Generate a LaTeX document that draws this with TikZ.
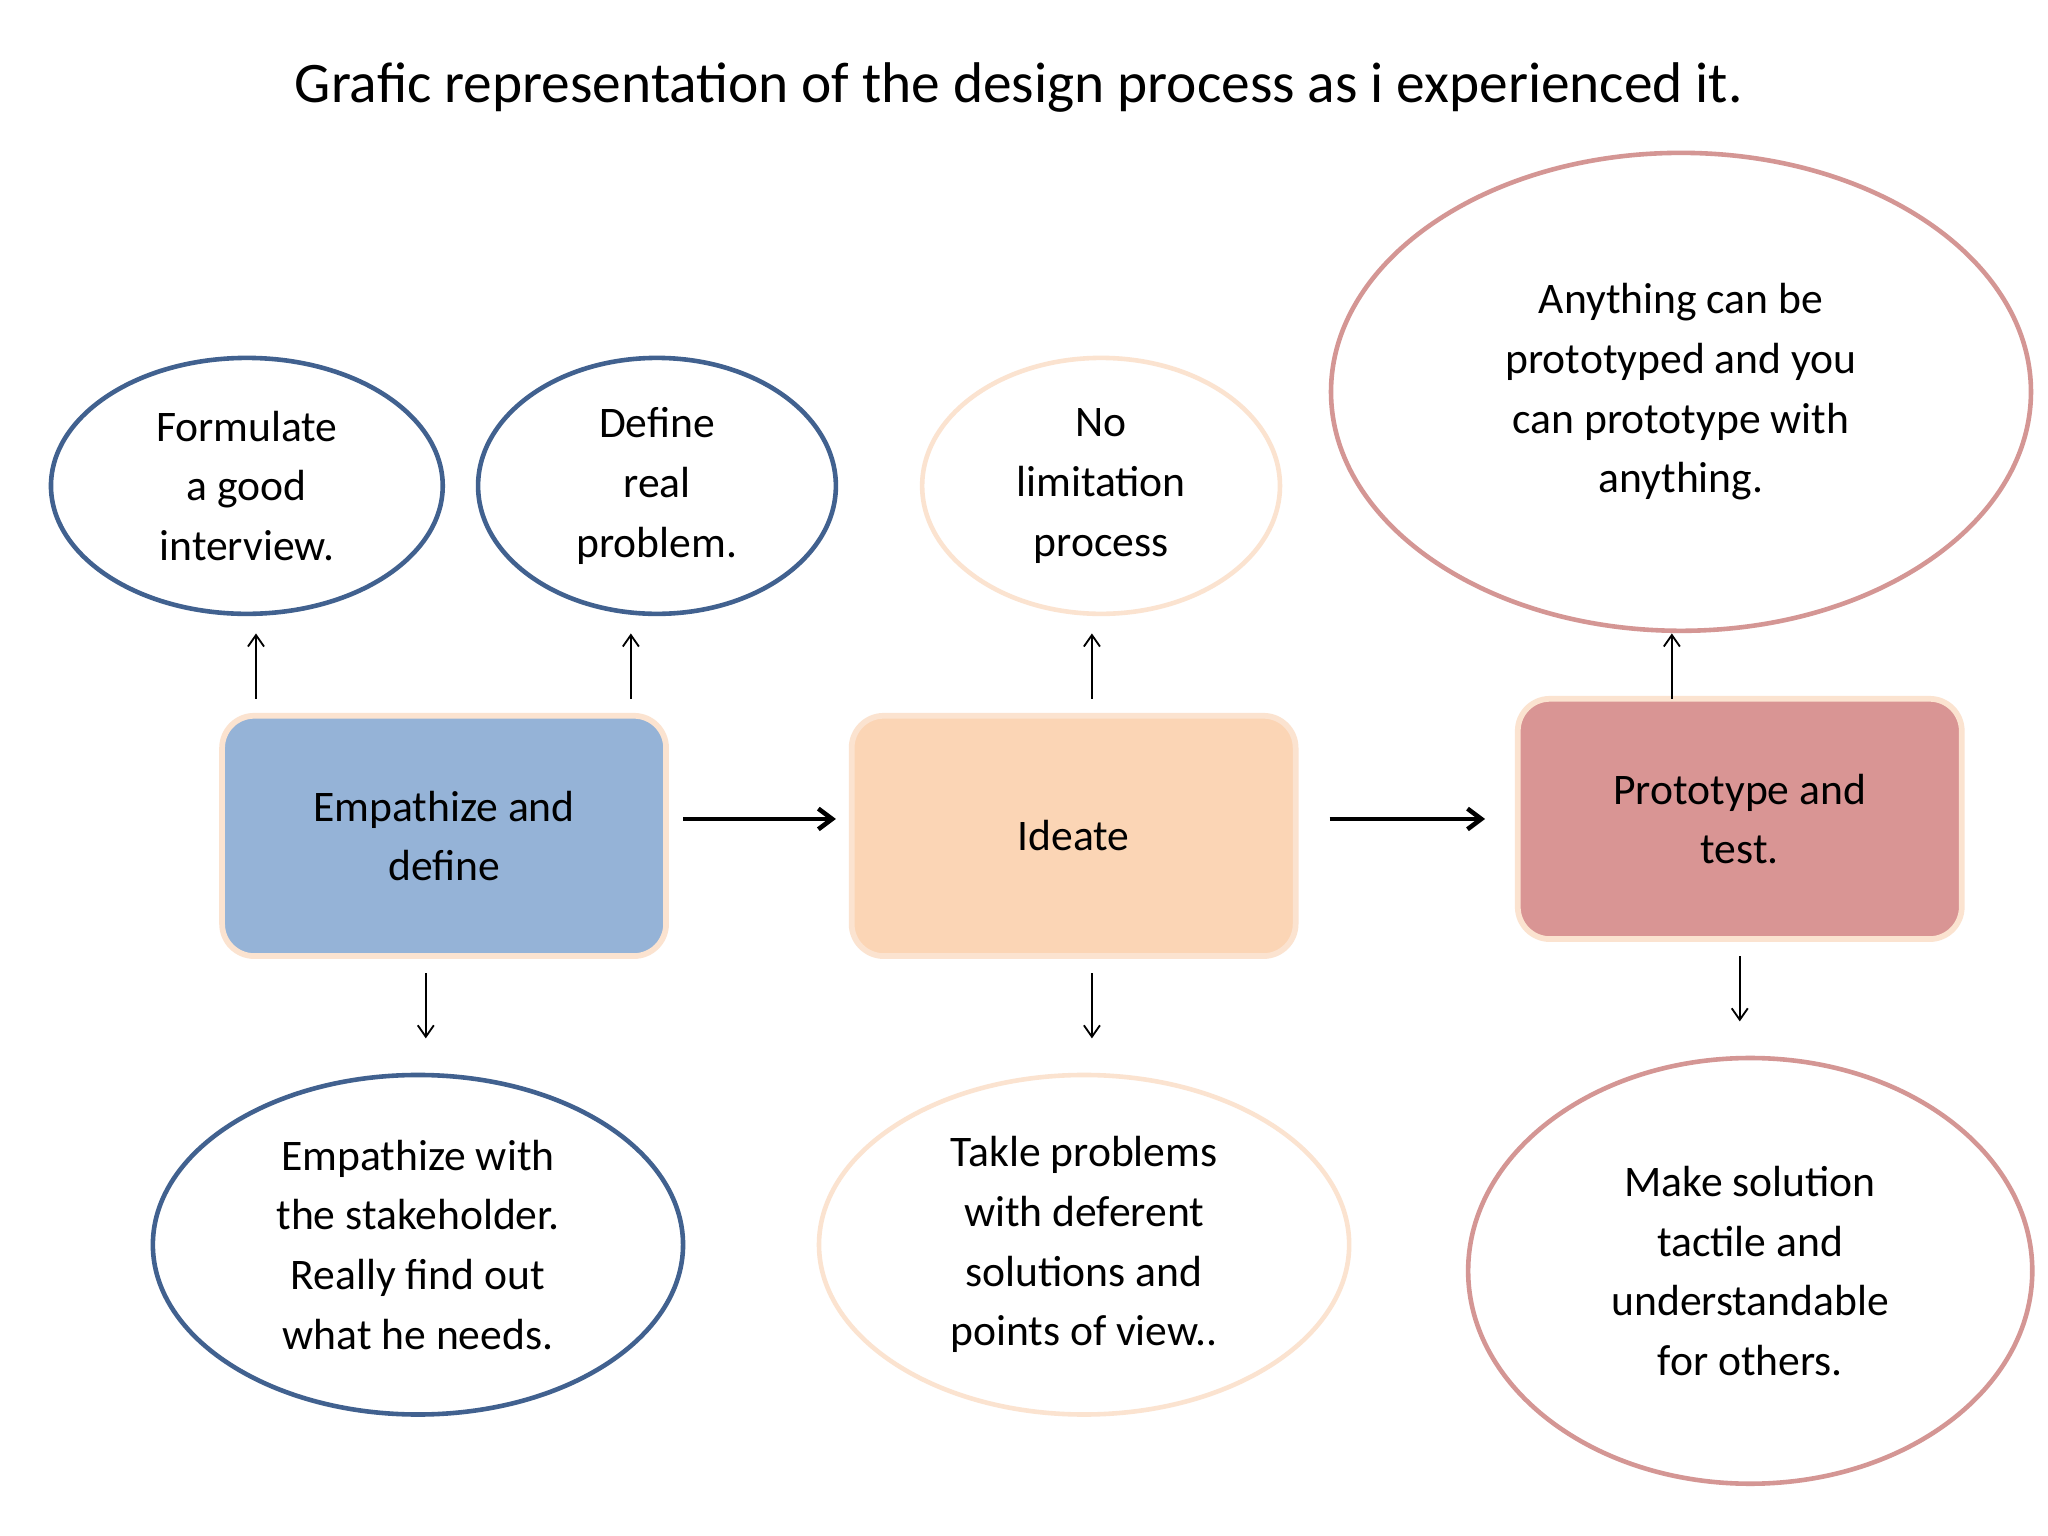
\documentclass[tikz,border=0pt]{standalone}
\usepackage{fontspec}
\setmainfont{Carlito}
\usetikzlibrary{shapes.geometric,arrows.meta}
\definecolor{dblue}{HTML}{41618F}
\definecolor{peach}{HTML}{FBE3D0}
\definecolor{rose}{HTML}{D49694}
\definecolor{bfill}{HTML}{95B3D7}
\definecolor{ofill}{HTML}{FBD5B5}
\definecolor{rfill}{HTML}{D99594}
\begin{document}
\begin{tikzpicture}[x=0.02cm,y=-0.02cm,
  ell/.style={ellipse,draw,line width=2pt,align=center,font=\fontsize{19}{26}\selectfont,inner sep=0pt},
  box/.style={rounded corners=14pt,draw=peach,line width=2.5pt,align=center,font=\fontsize{19}{26}\selectfont,minimum width=6.8cm,minimum height=3.68cm},
  thin/.style={-{Straight Barb[length=5pt,width=7pt]},line width=0.8pt},
  thick/.style={-{Straight Barb[length=6pt,width=9pt]},line width=2pt}]
\fill[white] (0,0) rectangle (1568,1176);
\node[font=\fontsize{25}{30}\selectfont] (title) at (780,67) {Grafic representation of the design process as i experienced it.};
\node[ell,draw=dblue,minimum width=6cm,minimum height=3.92cm] (e1) at (189,372) {Formulate\\a good\\interview.};
\node[ell,draw=dblue,minimum width=5.48cm,minimum height=3.92cm] (e2) at (503,372) {Define\\real\\problem.};
\node[ell,draw=peach,minimum width=5.48cm,minimum height=3.92cm] (e3) at (843,372) {No\\limitation\\process};
\node[ell,draw=rose,minimum width=10.72cm,minimum height=7.32cm] (e4) at (1287,300) {Anything can be\\prototyped and you\\can prototype with\\anything.};
\node[ell,draw=dblue,minimum width=8.12cm,minimum height=5.2cm] (e5) at (320,953) {Empathize with\\the stakeholder.\\Really find out\\what he needs.};
\node[ell,draw=peach,minimum width=8.12cm,minimum height=5.2cm] (e6) at (830,953) {Takle problems\\with deferent\\solutions and\\points of view..};
\node[ell,draw=rose,minimum width=8.64cm,minimum height=6.52cm] (e7) at (1340,973) {Make solution\\tactile and\\understandable\\for others.};
\node[box,fill=bfill] (b1) at (340,640) {Empathize and\\define};
\node[box,fill=ofill] (b2) at (822,640) {Ideate};
\node[box,fill=rfill] (b3) at (1332,627) {Prototype and\\test.};
\coordinate (a1s) at (523,627); \coordinate (a1e) at (640,627);
\coordinate (a2s) at (1018,627); \coordinate (a2e) at (1137,627);
\draw[thick] (a1s) -- (a1e);
\draw[thick] (a2s) -- (a2e);
\foreach \x in {196,483,836,1280}{\draw[thin] (\x,535) -- (\x,485);}
\foreach \x in {326,836}{\draw[thin] (\x,745) -- (\x,795);}
\draw[thin] (1332,732) -- (1332,782);
\end{tikzpicture}
\end{document}
